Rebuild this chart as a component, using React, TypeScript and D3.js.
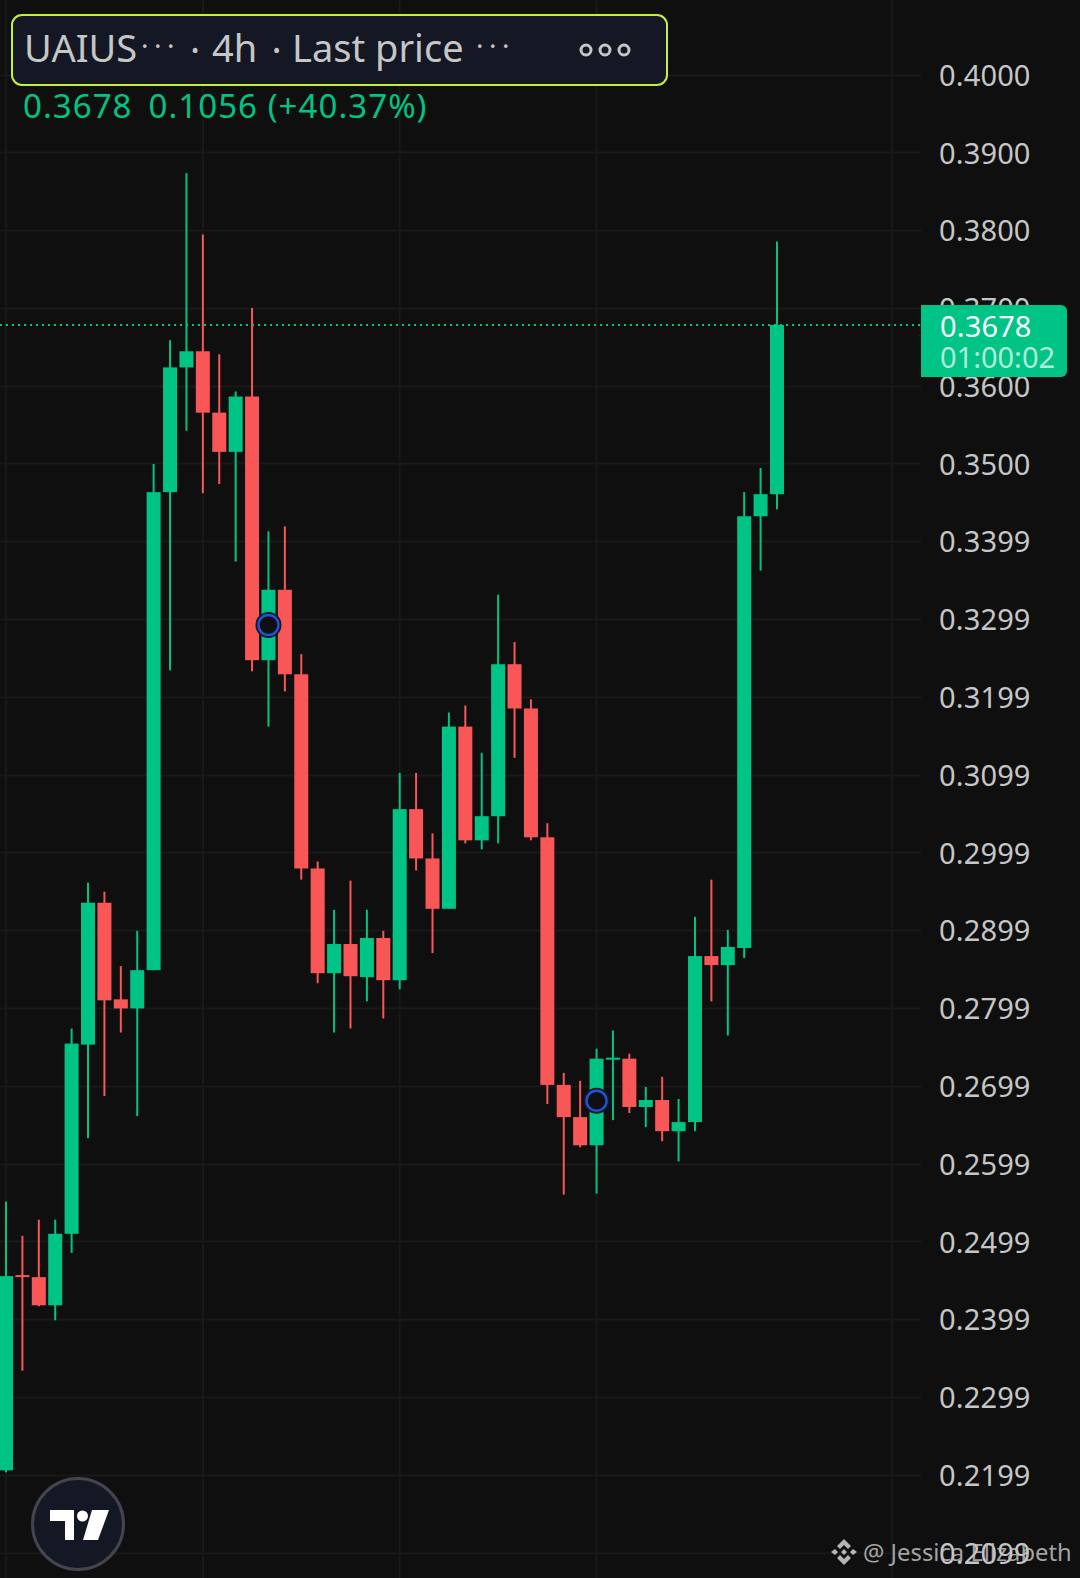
import React, { useRef, useEffect } from 'react';
import * as d3 from 'd3';

const WIDTH = 1080;
const HEIGHT = 1578;

// candles, oldest first (4h bars)
const opens = [
  0.22056, 0.24566, 0.2454, 0.24178, 0.25097, 0.27529, 0.29353, 0.28111, 0.27994, 0.28486, 0.34631, 0.36235,
  0.36442, 0.35653, 0.35149, 0.3586, 0.32471, 0.33376, 0.3229, 0.29793, 0.28447, 0.28822, 0.28396, 0.289,
  0.28357, 0.30556, 0.29922, 0.29275, 0.31617, 0.30155, 0.30465, 0.32419, 0.3185, 0.30194, 0.27011, 0.26597,
  0.26235, 0.27335, 0.27348, 0.26727, 0.26817, 0.26416, 0.26533, 0.28667, 0.28551, 0.28771, 0.34321, 0.34605,
];
const closes = [
  0.24553, 0.24553, 0.24178, 0.25097, 0.27542, 0.29353, 0.28098, 0.27994, 0.28486, 0.34631, 0.36235, 0.36442,
  0.35653, 0.35149, 0.3586, 0.32471, 0.33376, 0.3229, 0.29793, 0.28447, 0.28822, 0.28408, 0.289, 0.28357,
  0.30556, 0.29922, 0.29275, 0.31617, 0.30155, 0.30465, 0.32419, 0.3185, 0.30194, 0.27011, 0.26597, 0.26235,
  0.27348, 0.27361, 0.26727, 0.26817, 0.26416, 0.26533, 0.28667, 0.28551, 0.28784, 0.34321, 0.34605, 0.3678,
];
const highs = [
  0.25511, 0.25071, 0.25278, 0.25278, 0.27736, 0.29612, 0.29495, 0.28538, 0.28991, 0.34993, 0.36585, 0.38732,
  0.37943, 0.36404, 0.35925, 0.36999, 0.34127, 0.34191, 0.32548, 0.29883, 0.29262, 0.29637, 0.29262, 0.28991,
  0.31022, 0.31022, 0.30245, 0.31798, 0.31889, 0.3128, 0.33312, 0.32704, 0.31966, 0.30375, 0.27166, 0.27063,
  0.27477, 0.2771, 0.27412, 0.26985, 0.27115, 0.2683, 0.29172, 0.2965, 0.29004, 0.34631, 0.34942, 0.37852,
];
const lows = [
  0.22031, 0.23337, 0.24165, 0.23984, 0.24851, 0.26326, 0.26869, 0.27684, 0.2661, 0.28486, 0.32341, 0.3542,
  0.34618, 0.34735, 0.33738, 0.32328, 0.31617, 0.3207, 0.2965, 0.28318, 0.27684, 0.27736, 0.28085, 0.27865,
  0.2824, 0.29767, 0.28706, 0.29275, 0.30116, 0.30039, 0.30116, 0.31216, 0.30155, 0.26765, 0.25601, 0.26209,
  0.25614, 0.26558, 0.26649, 0.26468, 0.26287, 0.26028, 0.26416, 0.28085, 0.27645, 0.28641, 0.33622, 0.34411,
];

// price axis
const tickValues = [0.4, 0.39, 0.38, 0.37, 0.36, 0.35, 0.34, 0.33, 0.32, 0.31, 0.3, 0.29, 0.28, 0.27, 0.26, 0.25, 0.24, 0.23, 0.22, 0.21];
const tickLabels = [
  '0.4000', '0.3900', '0.3800', '0.3700', '0.3600', '0.3500', '0.3399', '0.3299', '0.3199', '0.3099',
  '0.2999', '0.2899', '0.2799', '0.2699', '0.2599', '0.2499', '0.2399', '0.2299', '0.2199', '0.2099',
];
// vertical grid sits on these bar indexes
const timeGrid = [0, 12, 24, 36, 54];

// markers: bar index and price
const markerBars = [16, 36];
const markerPrices = [0.32923, 0.26808];

const lastPrice = 0.3678;
const FONT = '"Noto Sans", sans-serif';

const App: React.FC = () => {
  const svgRef = useRef<SVGSVGElement | null>(null);

  useEffect(() => {
    if (!svgRef.current) return;
    const svg = d3.select(svgRef.current);
    svg.selectAll('*').remove();

    const colors = {
      bg: '#0f0f0f',
      grid: '#191919',
      up: '#00c386',
      down: '#f95757',
      text: '#c6c6c6',
      panel: '#131824',
      panelBorder: '#c3f03c',
      blue: '#1f52d6',
    };

    const x = d3.scaleLinear().domain([0, 47]).range([6, 777]);
    const y = d3.scaleLinear().domain([0.4, 0.21]).range([74.5, 1552.5]);
    const axisLeft = 921;
    const bodyWidth = 14;

    svg.append('rect').attr('width', WIDTH).attr('height', HEIGHT).attr('fill', colors.bg);

    // grid
    tickValues.forEach((t) => {
      svg.append('line')
        .attr('x1', 0).attr('x2', axisLeft)
        .attr('y1', Math.round(y(t)) + 0.5).attr('y2', Math.round(y(t)) + 0.5)
        .attr('stroke', colors.grid).attr('stroke-width', 2);
    });
    timeGrid.forEach((i) => {
      svg.append('line')
        .attr('x1', x(i)).attr('x2', x(i))
        .attr('y1', 0).attr('y2', HEIGHT)
        .attr('stroke', colors.grid).attr('stroke-width', 2);
    });

    // last price line
    svg.append('line')
      .attr('x1', 0).attr('x2', axisLeft)
      .attr('y1', y(lastPrice)).attr('y2', y(lastPrice))
      .attr('stroke', colors.up).attr('stroke-width', 2)
      .attr('stroke-dasharray', '2 4');

    // candles
    opens.forEach((open, i) => {
      const close = closes[i];
      const color = close >= open ? colors.up : colors.down;
      svg.append('rect')
        .attr('x', x(i) - 1).attr('width', 2)
        .attr('y', y(highs[i])).attr('height', y(lows[i]) - y(highs[i]))
        .attr('fill', color);
      const top = y(Math.max(open, close));
      const bottom = y(Math.min(open, close));
      svg.append('rect')
        .attr('x', x(i) - bodyWidth / 2).attr('width', bodyWidth)
        .attr('y', top).attr('height', Math.max(2, bottom - top))
        .attr('fill', color);
    });

    // markers
    markerBars.forEach((bar, i) => {
      svg.append('circle')
        .attr('cx', x(bar)).attr('cy', y(markerPrices[i])).attr('r', 11)
        .attr('fill', colors.bg)
        .attr('stroke', colors.panel).attr('stroke-width', 4);
      svg.append('circle')
        .attr('cx', x(bar)).attr('cy', y(markerPrices[i])).attr('r', 10)
        .attr('fill', 'none')
        .attr('stroke', colors.blue).attr('stroke-width', 2.4);
    });

    // price axis
    const axis = d3.axisRight(y)
      .tickValues(tickValues)
      .tickSize(0)
      .tickPadding(0)
      .tickFormat((_, i) => tickLabels[i]);
    const axisG = svg.append('g')
      .attr('transform', 'translate(939,0)')
      .call(axis);
    axisG.select('.domain').remove();
    axisG.selectAll('text')
      .attr('dy', '0.37em')
      .attr('fill', colors.text)
      .attr('font-family', FONT)
      .attr('font-size', 29)
      .attr('letter-spacing', 0.15);

    // last price tag
    svg.append('path')
      .attr('d', 'M921,305 H1061 a6,6 0 0 1 6,6 V371 a6,6 0 0 1 -6,6 H921 Z')
      .attr('fill', colors.up);
    svg.append('text')
      .attr('x', 940).attr('y', 337)
      .attr('fill', '#ffffff').attr('font-family', FONT).attr('font-size', 29).attr('letter-spacing', 0.15)
      .text(lastPrice.toFixed(4));
    svg.append('text')
      .attr('x', 940).attr('y', 368)
      .attr('fill', '#ffffff').attr('fill-opacity', 0.7).attr('font-family', FONT).attr('font-size', 29)
      .text('01:00:02');

    // legend box
    svg.append('rect')
      .attr('x', 12).attr('y', 15).attr('width', 655).attr('height', 70).attr('rx', 10)
      .attr('fill', colors.panel).attr('stroke', colors.panelBorder).attr('stroke-width', 2);
    const title = [
      { t: 'UAIUS', px: 24, py: 62, size: 38, ls: 0 },
      { t: '···', px: 141, py: 56, size: 28, ls: 5.5 },
      { t: '·', px: 190, py: 64, size: 38, ls: 0 },
      { t: '4h', px: 212, py: 62, size: 38, ls: 0 },
      { t: '·', px: 271.5, py: 64, size: 38, ls: 0 },
      { t: 'Last price', px: 292, py: 62, size: 38, ls: 0 },
      { t: '···', px: 476, py: 56, size: 28, ls: 5.5 },
    ];
    title.forEach((d) => {
      svg.append('text')
        .attr('x', d.px).attr('y', d.py)
        .attr('fill', colors.text).attr('font-family', FONT).attr('font-size', d.size).attr('letter-spacing', d.ls)
        .text(d.t);
    });
    [586, 605, 624].forEach((cx) => {
      svg.append('circle')
        .attr('cx', cx).attr('cy', 50).attr('r', 5)
        .attr('fill', 'none').attr('stroke', colors.text).attr('stroke-width', 3);
    });
    [{ t: '0.3678', px: 23 }, { t: '0.1056 (+40.37%)', px: 148.5 }].forEach((d) => {
      svg.append('text')
        .attr('x', d.px).attr('y', 118)
        .attr('fill', colors.up).attr('font-family', FONT).attr('font-size', 33).attr('letter-spacing', 1.05)
        .text(d.t);
    });

    // tradingview badge
    svg.append('circle')
      .attr('cx', 78).attr('cy', 1524).attr('r', 45.5)
      .attr('fill', colors.panel).attr('stroke', '#43444d').attr('stroke-width', 3);
    svg.append('path')
      .attr('d', 'M50,1510 H74 V1540 H65 V1521 H50 Z M92,1510 H109 L98,1540 H83 Z')
      .attr('fill', '#ffffff');
    svg.append('circle').attr('cx', 82.5).attr('cy', 1516).attr('r', 5.5).attr('fill', '#ffffff');

    // watermark
    const mark = svg.append('g').attr('transform', 'translate(844,1552)').attr('fill', '#b4b4b4');
    mark.append('path').attr('d', 'M0,-13 L7,-6 L4,-3 L0,-7 L-4,-3 L-7,-6 Z M0,13 L7,6 L4,3 L0,7 L-4,3 L-7,6 Z M-9,-3 L-6,0 L-9,3 L-13,0 Z M9,-3 L13,0 L9,3 L6,0 Z M0,-3 L3,0 L0,3 L-3,0 Z');
    svg.append('text')
      .attr('x', 863).attr('y', 1561)
      .attr('fill', '#c0c0c0').attr('fill-opacity', 0.85).attr('font-family', FONT).attr('font-size', 23.8)
      .text('@ Jessica Elizabeth');
  }, []);

  return (
    <svg
      ref={svgRef}
      width={WIDTH}
      height={HEIGHT}
      style={{ position: 'absolute', left: 0, top: 0, display: 'block' }}
    />
  );
};

export default App;
